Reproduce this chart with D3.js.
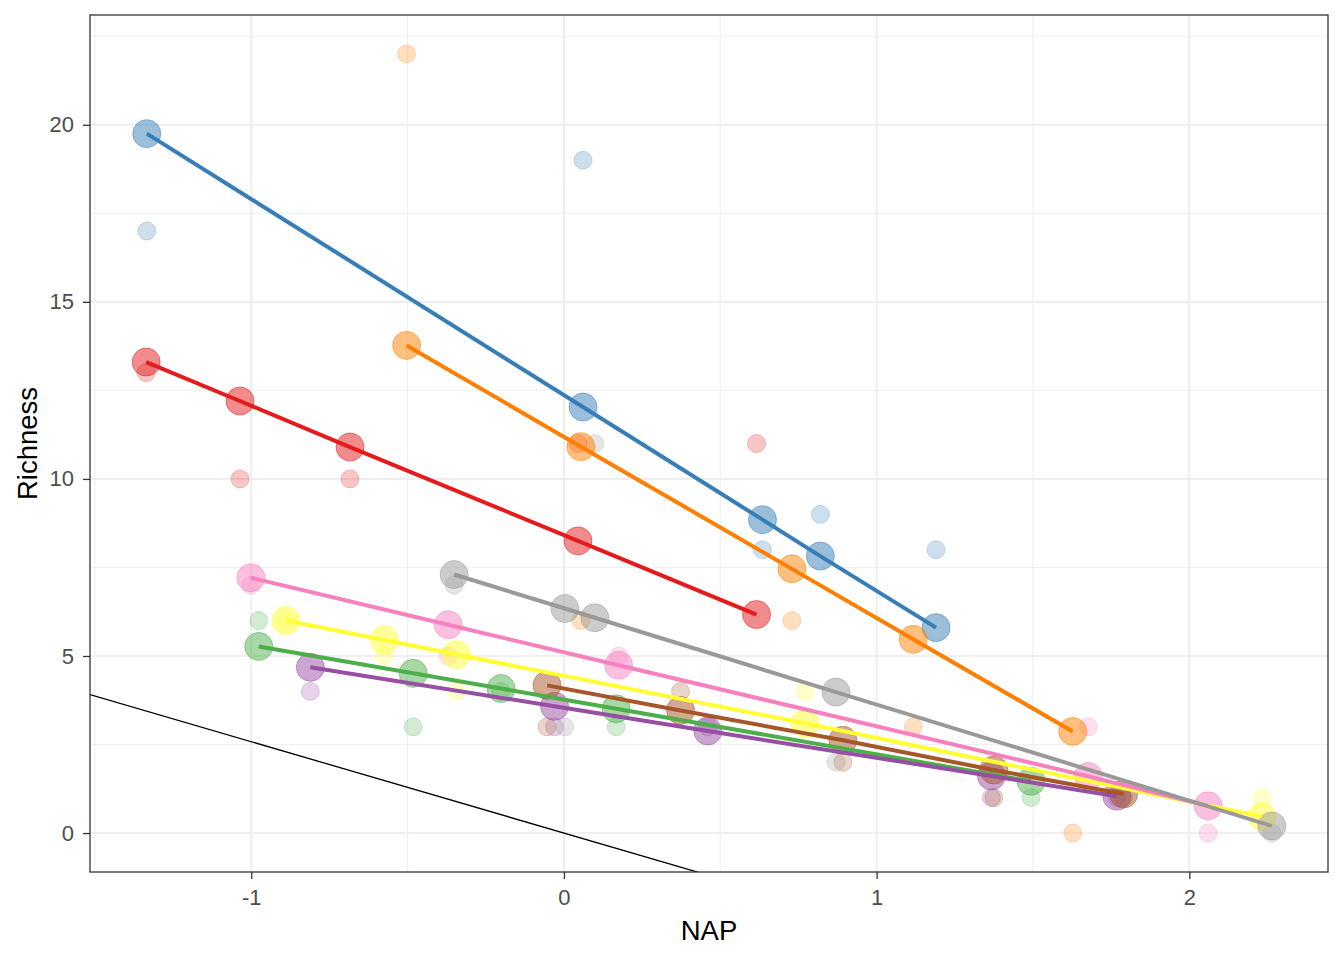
<!DOCTYPE html>
<html>
<head>
<meta charset="utf-8">
<script src="https://cdn.jsdelivr.net/npm/d3@7"></script>
<style>
  body { margin: 0; background: #fff; }
  text { font-family: "Liberation Sans", Arial, sans-serif; }
</style>
</head>
<body>
<div id="chart"></div>
<script>
// beaches, Set1 colours
var beaches = ["1", "2", "3", "4", "5", "6", "7", "8", "9"];
var beachColors = ["#E41A1C", "#377EB8", "#4DAF4A", "#984EA3", "#FF7F00",
                   "#FFFF33", "#A65628", "#F781BF", "#999999"];

// NAP per sample, one row per beach
var napValues = [
  [-1.336, -1.036, -0.684, 0.045, 0.616],
  [-1.334, 0.061, 0.635, 0.820, 1.190],
  [-0.976, -0.482, -0.201, 0.167, 1.494],
  [-0.811, -0.030, 0.460, 1.367, 1.768],
  [-0.503, 0.054, 0.729, 1.117, 1.627],
  [-0.889, -0.574, -0.344, 0.771, 2.232],
  [-0.054, 0.373, 0.892, 1.375, 1.790],
  [-1.001, -0.370, 0.175, 1.677, 2.060],
  [-0.351, 0.003, 0.099, 0.870, 2.264]
];
// observed richness
var richness = [
  [13, 10, 10, 11, 11],
  [17, 19, 8, 9, 8],
  [6, 3, 4, 3, 1],
  [4, 3, 3, 1, 1],
  [22, 6, 6, 3, 0],
  [6, 5, 4, 4, 1],
  [3, 4, 2, 1, 1],
  [7, 5, 5, 3, 0],
  [7, 3, 11, 2, 0]
];
// fitted richness
var fitted = [
  [13.3, 12.2, 10.9, 8.25, 6.17],
  [19.75, 12.03, 8.85, 7.82, 5.8],
  [5.27, 4.51, 4.08, 3.51, 1.46],
  [4.68, 3.58, 2.88, 1.61, 1.04],
  [13.77, 10.91, 7.46, 5.47, 2.87],
  [6.0, 5.45, 5.04, 3.1, 0.47],
  [4.17, 3.46, 2.62, 1.78, 1.1],
  [7.21, 5.88, 4.74, 1.6, 0.77],
  [7.3, 6.34, 6.08, 3.98, 0.2]
];
var ablineIntercept = 0;
var ablineSlope = -2.58;

var xTicks = [-1, 0, 1, 2];
var xMinor = [-1.5, -0.5, 0.5, 1.5];
var yTicks = [0, 5, 10, 15, 20];
var yMinor = [2.5, 7.5, 12.5, 17.5, 22.5];

var width = 1344, height = 960;
var margin = {left: 90, right: 16, top: 15, bottom: 88};

var svg = d3.select("#chart").append("svg")
  .attr("width", width)
  .attr("height", height);

var x = d3.scaleLinear().domain([-1.5156, 2.4435]).range([margin.left, width - margin.right]);
var y = d3.scaleLinear().domain([-1.1, 23.1]).range([height - margin.bottom, margin.top]);

var panel = svg.append("g");
panel.append("defs").append("clipPath").attr("id", "clip")
  .append("rect")
  .attr("x", margin.left).attr("y", margin.top)
  .attr("width", width - margin.left - margin.right)
  .attr("height", height - margin.top - margin.bottom);

// grid
panel.selectAll("line.xminor").data(xMinor).enter().append("line")
  .attr("x1", d => x(d)).attr("x2", d => x(d))
  .attr("y1", margin.top).attr("y2", height - margin.bottom)
  .attr("stroke", "#EBEBEB").attr("stroke-width", 0.8);
panel.selectAll("line.yminor").data(yMinor).enter().append("line")
  .attr("y1", d => y(d)).attr("y2", d => y(d))
  .attr("x1", margin.left).attr("x2", width - margin.right)
  .attr("stroke", "#EBEBEB").attr("stroke-width", 0.8);
panel.selectAll("line.xmajor").data(xTicks).enter().append("line")
  .attr("x1", d => x(d)).attr("x2", d => x(d))
  .attr("y1", margin.top).attr("y2", height - margin.bottom)
  .attr("stroke", "#EBEBEB").attr("stroke-width", 1.6);
panel.selectAll("line.ymajor").data(yTicks).enter().append("line")
  .attr("y1", d => y(d)).attr("y2", d => y(d))
  .attr("x1", margin.left).attr("x2", width - margin.right)
  .attr("stroke", "#EBEBEB").attr("stroke-width", 1.6);

var marks = panel.append("g").attr("clip-path", "url(#clip)");

var rows = [];
beaches.forEach((b, i) => {
  napValues[i].forEach((n, j) => {
    rows.push({beach: i, nap: n, rich: richness[i][j], fit: fitted[i][j]});
  });
});

// observed points
marks.selectAll("circle.obs").data(rows).enter().append("circle")
  .attr("cx", d => x(d.nap))
  .attr("cy", d => y(d.rich))
  .attr("r", 9)
  .attr("fill", d => beachColors[d.beach])
  .attr("fill-opacity", 0.25)
  .attr("stroke", d => beachColors[d.beach])
  .attr("stroke-opacity", 0.25)
  .attr("stroke-width", 1);

// fitted points
marks.selectAll("circle.fit").data(rows).enter().append("circle")
  .attr("cx", d => x(d.nap))
  .attr("cy", d => y(d.fit))
  .attr("r", 14)
  .attr("fill", d => beachColors[d.beach])
  .attr("fill-opacity", 0.5)
  .attr("stroke", d => beachColors[d.beach])
  .attr("stroke-opacity", 0.5)
  .attr("stroke-width", 1);

// fitted lines
var line = d3.line().x(d => x(d[0])).y(d => y(d[1]));
beaches.forEach((b, i) => {
  var pts = napValues[i].map((n, j) => [n, fitted[i][j]]);
  marks.append("path")
    .attr("d", line(pts))
    .attr("fill", "none")
    .attr("stroke", beachColors[i])
    .attr("stroke-width", 4)
    .attr("stroke-linecap", "butt");
});

// reference line
var xd = x.domain();
marks.append("line")
  .attr("x1", x(xd[0])).attr("y1", y(ablineIntercept + ablineSlope * xd[0]))
  .attr("x2", x(xd[1])).attr("y2", y(ablineIntercept + ablineSlope * xd[1]))
  .attr("stroke", "#000").attr("stroke-width", 1.3);

// border
panel.append("rect")
  .attr("x", margin.left).attr("y", margin.top)
  .attr("width", width - margin.left - margin.right)
  .attr("height", height - margin.top - margin.bottom)
  .attr("fill", "none").attr("stroke", "#333333").attr("stroke-width", 1.3);

// axes
var xAxis = svg.append("g")
  .attr("transform", "translate(0," + (height - margin.bottom) + ")")
  .call(d3.axisBottom(x).tickValues(xTicks).tickSize(7).tickPadding(10).tickFormat(d3.format("d")));
var yAxis = svg.append("g")
  .attr("transform", "translate(" + margin.left + ",0)")
  .call(d3.axisLeft(y).tickValues(yTicks).tickSize(7).tickPadding(9).tickFormat(d3.format("d")));
[xAxis, yAxis].forEach(a => {
  a.select(".domain").remove();
  a.selectAll(".tick line").attr("stroke", "#333333").attr("stroke-width", 1.3);
  a.selectAll(".tick text")
    .attr("fill", "#4D4D4D")
    .style("font-size", "22px")
    .style("font-family", "'Liberation Sans', Arial, sans-serif");
});
xAxis.selectAll(".tick text").text(d => d < 0 ? "-" + Math.abs(d) : d);

svg.append("text")
  .attr("x", (margin.left + width - margin.right) / 2)
  .attr("y", 940)
  .attr("text-anchor", "middle")
  .style("font-size", "27.5px")
  .attr("fill", "#000")
  .text("NAP");

svg.append("text")
  .attr("transform", "translate(37," + ((margin.top + height - margin.bottom) / 2) + ") rotate(-90)")
  .attr("text-anchor", "middle")
  .style("font-size", "27.5px")
  .attr("fill", "#000")
  .text("Richness");
</script>
</body>
</html>
